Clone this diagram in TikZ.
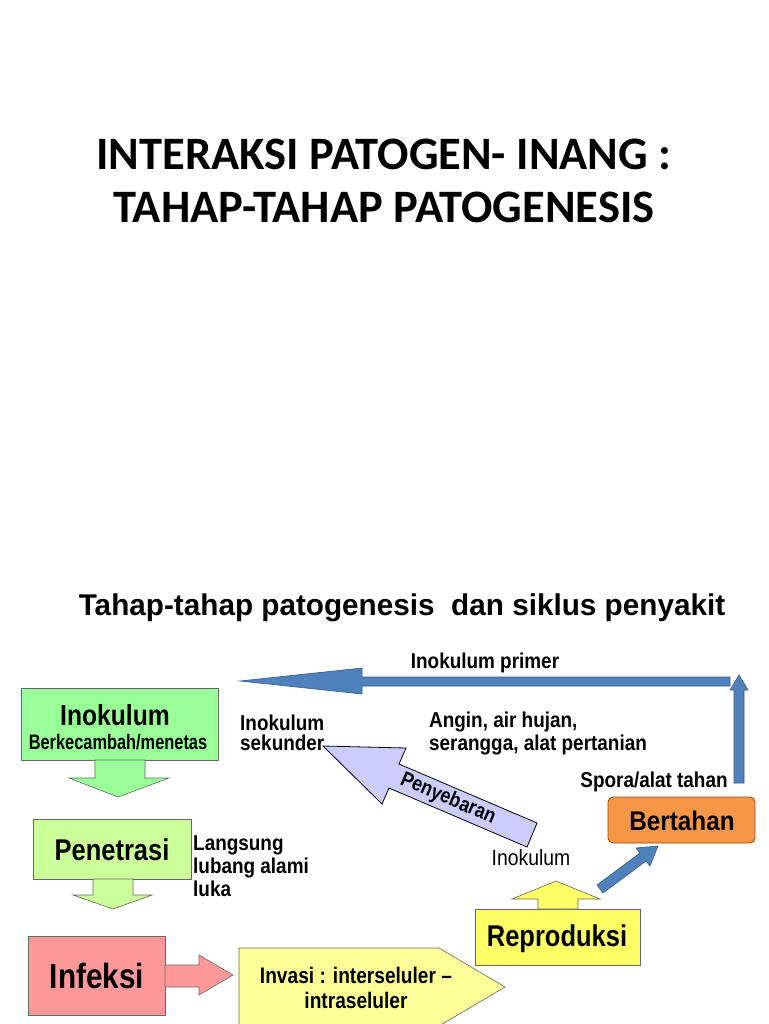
\documentclass[tikz,border=0pt]{standalone}
\usepackage{fontspec}
\setmainfont{Liberation Sans}
\newfontfamily\titlefont{Carlito}
\begin{document}
\begin{tikzpicture}[x=1pt,y=-1pt,
  box/.style={draw=black!60, line width=0.6pt, inner sep=0pt},
  lbl/.style={font=\bfseries\fontsize{21.5}{23}\selectfont, inner sep=0pt, align=left}]
\useasboundingbox (0,0) rectangle (768,1024);
\fill[white] (0,0) rectangle (768,1024);
\colorlet{arrblue}{rgb,255:red,79;green,129;blue,189}
\tikzset{bluearr/.style={fill=arrblue, draw=arrblue!70!black, line width=0.6pt}}
% title
\node[font=\titlefont\bfseries\fontsize{46.5}{53}\selectfont, align=center] (title) at (384,181) {INTERAKSI PATOGEN- INANG :\\TAHAP-TAHAP PATOGENESIS};
\node[font=\bfseries\fontsize{30}{34}\selectfont] (sub) at (402,608) {\scalebox{0.99}[1]{Tahap-tahap patogenesis\ \ dan siklus penyakit}};
% boxes
\filldraw[box, fill={rgb,255:red,153;green,255;blue,153}] (21,688) rectangle (218,760);
\node[font=\bfseries\fontsize{29}{30}\selectfont] (ino) at (115,715) {\scalebox{0.85}[1]{Inokulum}};
\node[font=\bfseries\fontsize{21}{22}\selectfont] (berk) at (118,742) {\scalebox{0.78}[1]{Berkecambah/menetas}};
\filldraw[box, fill={rgb,255:red,153;green,255;blue,153}] (95,760) -- (145,760) -- (145,778) -- (169,778) -- (118,797) -- (69,778) -- (95,778) -- cycle;
\filldraw[box, fill={rgb,255:red,204;green,255;blue,153}] (33,819) rectangle (191,879);
\node[font=\bfseries\fontsize{30}{30}\selectfont] (pen) at (112,850) {\scalebox{0.85}[1]{Penetrasi}};
\filldraw[box, fill={rgb,255:red,204;green,255;blue,153}] (93,879) -- (133,879) -- (133,895) -- (152,895) -- (113,909) -- (73,895) -- (93,895) -- cycle;
\node[lbl, anchor=west] (lang) at (193,866) {\scalebox{0.88}[1]{Langsung}\\\scalebox{0.88}[1]{lubang alami}\\\scalebox{0.88}[1]{luka}};
\filldraw[box, fill={rgb,255:red,255;green,153;blue,153}] (28,936) rectangle (165,1015);
\node[font=\bfseries\fontsize{35}{36}\selectfont] (inf) at (97,976) {\scalebox{0.85}[1]{Infeksi}};
\filldraw[box, fill={rgb,255:red,255;green,153;blue,153}] (165,965) -- (199,965) -- (199,955) -- (233,975) -- (199,995) -- (199,987) -- (165,987) -- cycle;
\filldraw[box, fill={rgb,255:red,255;green,255;blue,153}] (239,948) -- (439,948) -- (505,987) -- (439,1026) -- (239,1026) -- cycle;
\node[font=\bfseries\fontsize{22.5}{25}\selectfont, align=center] (inv) at (356,988) {\scalebox{0.85}[1]{Invasi : interseluler --}\\\scalebox{0.85}[1]{intraseluler}};
\filldraw[box, fill={rgb,255:red,255;green,255;blue,102}] (475,909) rectangle (640,965);
\node[font=\bfseries\fontsize{30}{30}\selectfont] (rep) at (557,939) {\scalebox{0.85}[1]{Reproduksi}};
\filldraw[box, fill={rgb,255:red,255;green,255;blue,102}] (538,909) -- (538,899) -- (512,899) -- (556,881) -- (600,899) -- (578,899) -- (578,909) -- cycle;
\node[font=\fontsize{22}{22}\selectfont] (inok2) at (531,858) {\scalebox{0.88}[1]{Inokulum}};
\filldraw[draw={rgb,255:red,152;green,72;blue,7}, line width=0.8pt, fill={rgb,255:red,247;green,150;blue,70}, rounded corners=5pt] (608,797) rectangle (755,843);
\node[font=\bfseries\fontsize{27}{28}\selectfont] (bert) at (682,821) {\scalebox{0.9}[1]{Bertahan}};
% blue arrows
\filldraw[bluearr] (597,885) -- (640,853) -- (636,848) -- (658,846) -- (650,866) -- (646,861) -- (603,893) -- cycle;
\filldraw[bluearr] (734,783) -- (734,690) -- (730,690) -- (739,675) -- (748,690) -- (744,690) -- (744,783) -- cycle;
\filldraw[bluearr] (730,677) -- (362,677) -- (362,668) -- (240,681) -- (362,694) -- (362,686) -- (730,686) -- cycle;
\node[lbl] (prim) at (485,663) {\scalebox{0.88}[1]{Inokulum primer}};
\node[lbl, anchor=west, font=\bfseries\fontsize{21.5}{20}\selectfont] (sek) at (240,733) {\scalebox{0.88}[1]{Inokulum}\\\scalebox{0.88}[1]{sekunder}};
\node[lbl, anchor=west] (ang) at (429,733) {\scalebox{0.88}[1]{Angin, air hujan,}\\\scalebox{0.88}[1]{serangga, alat pertanian}};
\node[lbl] (spora) at (654,782) {\scalebox{0.88}[1]{Spora/alat tahan}};
% penyebaran arrow
\filldraw[draw=black, line width=0.8pt, fill={rgb,255:red,204;green,204;blue,255}] (537,823) -- (399,764) -- (406,748) -- (323,746) -- (382,804) -- (389,788) -- (527,847) -- cycle;
\node[font=\bfseries\fontsize{21}{21}\selectfont, rotate=-23] (peny) at (448,799) {\scalebox{0.85}[1]{Penyebaran}};
\end{tikzpicture}
\end{document}
